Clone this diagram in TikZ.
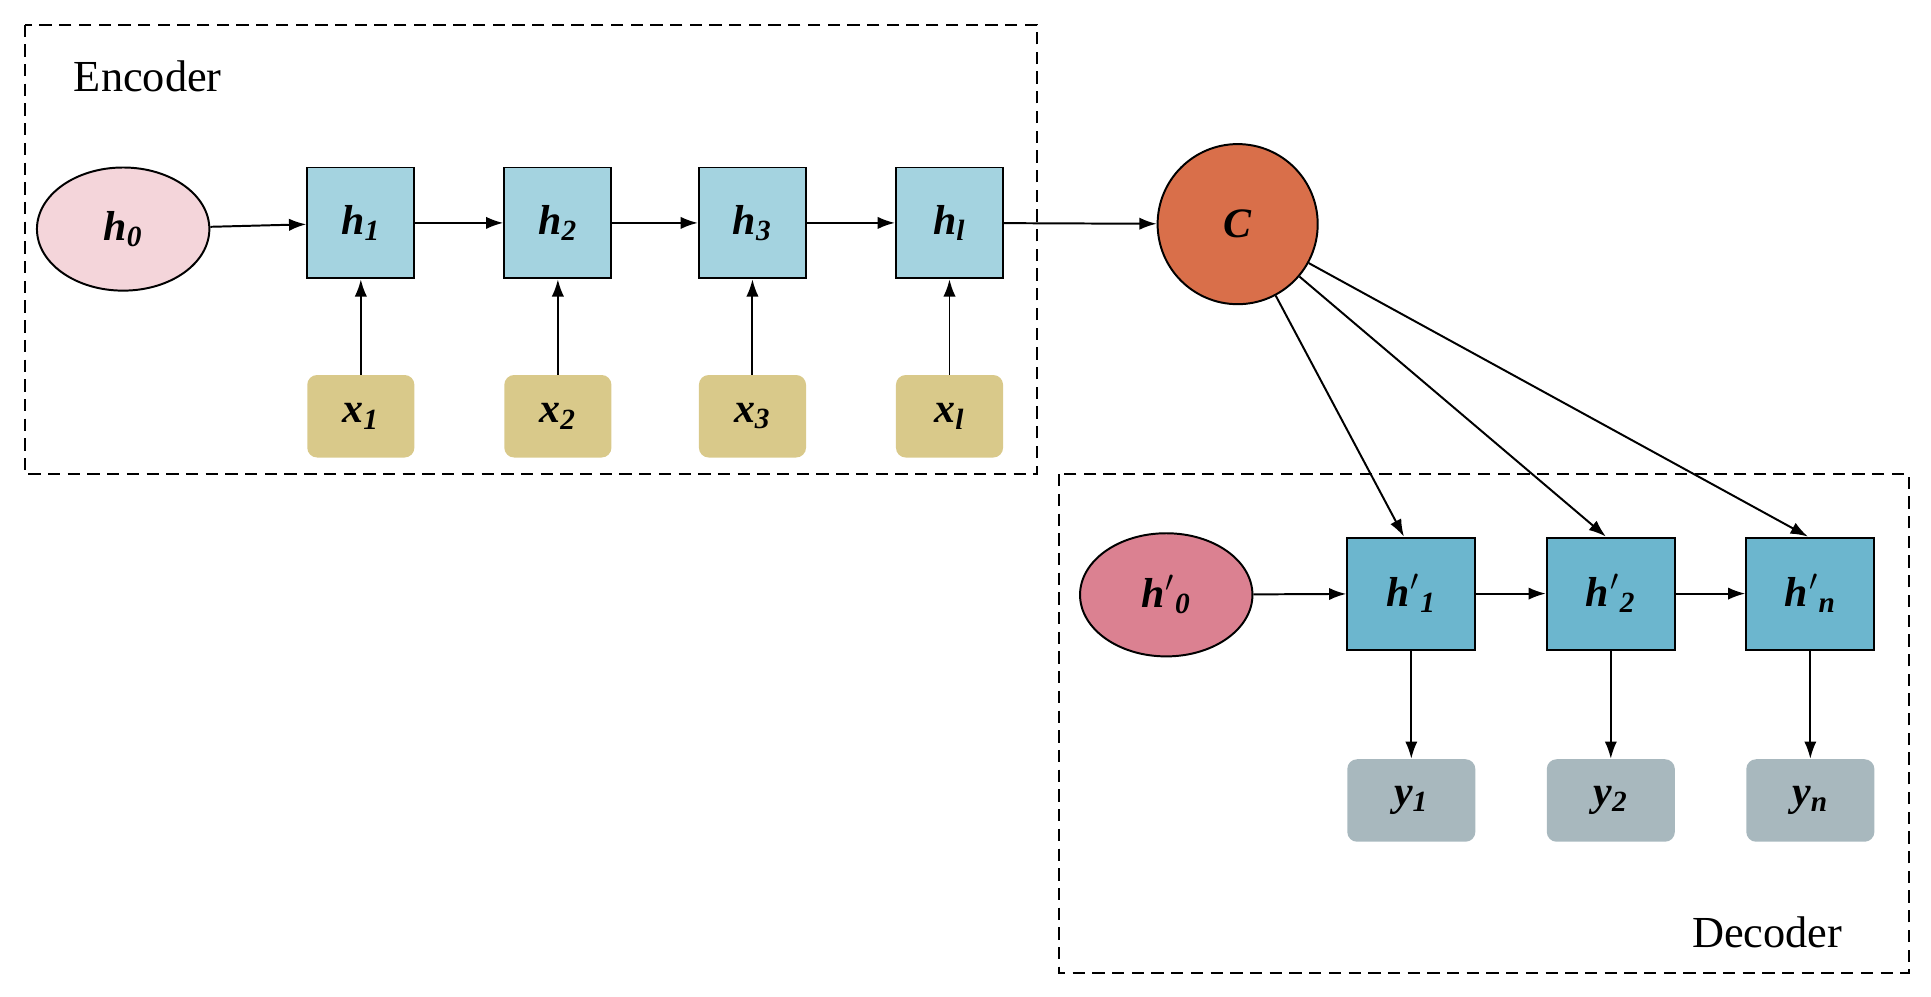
\documentclass[tikz,border=0pt]{standalone}
\usepackage{fontspec}
\setmainfont{Liberation Serif}
\usetikzlibrary{arrows.meta,shapes.geometric}
\definecolor{hzero}{HTML}{F4D5DA}
\definecolor{encbox}{HTML}{A4D3E0}
\definecolor{xbox}{HTML}{D9C98A}
\definecolor{ctx}{HTML}{D96F4A}
\definecolor{hdzero}{HTML}{DB8191}
\definecolor{decbox}{HTML}{6CB6CE}
\definecolor{ybox}{HTML}{A8B8BE}
\tikzset{
  lbl/.style={font=\fontsize{17}{20}\selectfont\bfseries\itshape},
  state/.style={lbl,draw,thick,minimum width=43.5pt,minimum height=45pt,inner sep=0pt},
  dstate/.style={lbl,draw,thick,minimum width=52pt,minimum height=45.5pt,inner sep=0pt,fill=decbox},
  inp/.style={lbl,rounded corners=4pt,minimum width=43.5pt,minimum height=33.5pt,inner sep=0pt,fill=xbox},
  outp/.style={lbl,rounded corners=4pt,minimum width=52pt,minimum height=33.5pt,inner sep=0pt,fill=ybox},
  oval/.style={lbl,ellipse,draw,thick,minimum width=70pt,minimum height=50pt,inner sep=0pt},
  arr/.style={-{Latex[length=7pt,width=5pt]},thick},
  frame/.style={dashed,thick,dash pattern=on 5pt off 3pt},
  boxtitle/.style={font=\fontsize{18}{20}\selectfont}
}
\begin{document}
\begin{tikzpicture}[x=0.5pt,y=-0.5pt]
\useasboundingbox (0,0) rectangle (1568,809);
% frames
\draw[frame] (20,20) rectangle (842,385);
\draw[frame] (860,385) rectangle (1550,790);
\node[boxtitle] (enc) at (120,62) {Encoder};
\node[boxtitle] (dec) at (1435,757) {Decoder};
% encoder
\node[oval,fill=hzero] (h0) at (100,186) {h\textsubscript{0}};
\node[state,fill=encbox] (h1) at (293,181) {h\textsubscript{1}};
\node[state,fill=encbox] (h2) at (453,181) {h\textsubscript{2}};
\node[state,fill=encbox] (h3) at (611,181) {h\textsubscript{3}};
\node[state,fill=encbox] (hl) at (771,181) {h\textsubscript{l}};
\node[inp] (x1) at (293,338) {x\textsubscript{1}};
\node[inp] (x2) at (453,338) {x\textsubscript{2}};
\node[inp] (x3) at (611,338) {x\textsubscript{3}};
\node[inp] (xl) at (771,338) {x\textsubscript{l}};
\node[lbl,circle,draw,thick,fill=ctx,minimum size=65pt,inner sep=0pt] (c) at (1005,182) {C};
% decoder
\node[oval,fill=hdzero] (d0) at (947,483) {h\kern0.5pt$'$\textsubscript{0}};
\node[dstate] (d1) at (1146,482) {h\kern0.5pt$'$\textsubscript{1}};
\node[dstate] (d2) at (1308,482) {h\kern0.5pt$'$\textsubscript{2}};
\node[dstate] (dn) at (1470,482) {h\kern0.5pt$'$\textsubscript{n}};
\node[outp] (y1) at (1146,650) {y\textsubscript{1}};
\node[outp] (y2) at (1308,650) {y\textsubscript{2}};
\node[outp] (yn) at (1470,650) {y\textsubscript{n}};
% connectors
\draw[arr] (h0) -- (h1);
\draw[arr] (h1) -- (h2);
\draw[arr] (h2) -- (h3);
\draw[arr] (h3) -- (hl);
\draw[arr] (hl) -- (c);
\foreach \i/\h in {x1/h1,x2/h2,x3/h3,xl/hl} \draw[arr] (\i) -- (\h);
\draw[arr] (c) -- ([xshift=-3pt]d1.north);
\draw[arr] (c) -- ([xshift=-2pt]d2.north);
\draw[arr] (c) -- ([xshift=-1pt]dn.north);
\draw[arr] (d0) -- (d1);
\draw[arr] (d1) -- (d2);
\draw[arr] (d2) -- (dn);
\draw[arr] (d1) -- (y1);
\draw[arr] (d2) -- (y2);
\draw[arr] (dn) -- (yn);
\end{tikzpicture}
\end{document}
